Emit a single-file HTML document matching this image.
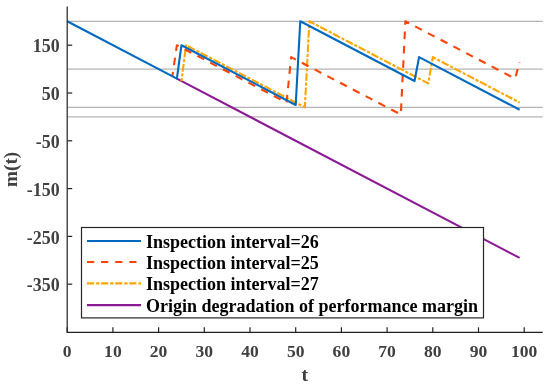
<!DOCTYPE html><html><head><meta charset="utf-8"><title>chart</title><style>html,body{margin:0;padding:0;background:#fff}svg{display:block}text{font-family:"Liberation Serif",serif;font-weight:bold}</style></head><body>
<svg width="550" height="385" viewBox="0 0 550 385">
<rect width="550" height="385" fill="#fff"/>
<line x1="67.20" x2="542.70" y1="21.30" y2="21.30" stroke="#b4b4b4" stroke-width="1.2"/>
<line x1="67.20" x2="542.70" y1="69.10" y2="69.10" stroke="#b4b4b4" stroke-width="1.2"/>
<line x1="67.20" x2="542.70" y1="107.34" y2="107.34" stroke="#b4b4b4" stroke-width="1.2"/>
<line x1="67.20" x2="542.70" y1="116.90" y2="116.90" stroke="#b4b4b4" stroke-width="1.2"/>
<polyline points="176.88,78.66 519.63,257.91" fill="none" stroke="#8c1a94" stroke-width="2.1" stroke-linejoin="round"/>
<polyline points="181.45,81.05 186.02,45.20 304.84,107.34 309.41,21.30 428.23,83.44 432.80,57.15 519.63,102.56" fill="none" stroke="#ffa500" stroke-width="2.1" stroke-dasharray="7.8,1.7,3.2,1.7" stroke-dashoffset="4.86" stroke-linejoin="round"/>
<polyline points="172.31,76.27 176.88,45.20 286.56,102.56 291.13,57.15 400.81,114.51 405.38,21.30 515.06,78.66 519.63,61.93" fill="none" stroke="#fb4508" stroke-width="2.1" stroke-dasharray="7.6,6.8" stroke-dashoffset="3.09" stroke-linejoin="round"/>
<polyline points="67.20,21.30 176.88,78.66 181.45,45.20 295.70,104.95 300.27,21.30 414.52,81.05 419.09,57.15 519.63,109.73" fill="none" stroke="#006ac0" stroke-width="2.1" stroke-linejoin="round"/>
<path d="M67.20 6.50V332.30H542.70" fill="none" stroke="#222" stroke-width="1.2"/>
<line x1="67.20" x2="67.20" y1="332.30" y2="327.30" stroke="#222" stroke-width="1.2"/>
<text transform="translate(67.20,356.6) scale(1,0.97)" font-size="17.6" text-anchor="middle" fill="#404040">0</text>
<line x1="112.90" x2="112.90" y1="332.30" y2="327.30" stroke="#222" stroke-width="1.2"/>
<text transform="translate(112.90,356.6) scale(1,0.97)" font-size="17.6" text-anchor="middle" fill="#404040">10</text>
<line x1="158.60" x2="158.60" y1="332.30" y2="327.30" stroke="#222" stroke-width="1.2"/>
<text transform="translate(158.60,356.6) scale(1,0.97)" font-size="17.6" text-anchor="middle" fill="#404040">20</text>
<line x1="204.30" x2="204.30" y1="332.30" y2="327.30" stroke="#222" stroke-width="1.2"/>
<text transform="translate(204.30,356.6) scale(1,0.97)" font-size="17.6" text-anchor="middle" fill="#404040">30</text>
<line x1="250.00" x2="250.00" y1="332.30" y2="327.30" stroke="#222" stroke-width="1.2"/>
<text transform="translate(250.00,356.6) scale(1,0.97)" font-size="17.6" text-anchor="middle" fill="#404040">40</text>
<line x1="295.70" x2="295.70" y1="332.30" y2="327.30" stroke="#222" stroke-width="1.2"/>
<text transform="translate(295.70,356.6) scale(1,0.97)" font-size="17.6" text-anchor="middle" fill="#404040">50</text>
<line x1="341.40" x2="341.40" y1="332.30" y2="327.30" stroke="#222" stroke-width="1.2"/>
<text transform="translate(341.40,356.6) scale(1,0.97)" font-size="17.6" text-anchor="middle" fill="#404040">60</text>
<line x1="387.10" x2="387.10" y1="332.30" y2="327.30" stroke="#222" stroke-width="1.2"/>
<text transform="translate(387.10,356.6) scale(1,0.97)" font-size="17.6" text-anchor="middle" fill="#404040">70</text>
<line x1="432.80" x2="432.80" y1="332.30" y2="327.30" stroke="#222" stroke-width="1.2"/>
<text transform="translate(432.80,356.6) scale(1,0.97)" font-size="17.6" text-anchor="middle" fill="#404040">80</text>
<line x1="478.50" x2="478.50" y1="332.30" y2="327.30" stroke="#222" stroke-width="1.2"/>
<text transform="translate(478.50,356.6) scale(1,0.97)" font-size="17.6" text-anchor="middle" fill="#404040">90</text>
<line x1="524.20" x2="524.20" y1="332.30" y2="327.30" stroke="#222" stroke-width="1.2"/>
<text transform="translate(524.20,356.6) scale(1,0.97)" font-size="17.6" text-anchor="middle" fill="#404040">100</text>
<line x1="67.20" x2="72.20" y1="45.20" y2="45.20" stroke="#222" stroke-width="1.2"/>
<text transform="translate(59.6,52.30)" font-size="17.9" text-anchor="end" fill="#404040">150</text>
<line x1="67.20" x2="72.20" y1="93.00" y2="93.00" stroke="#222" stroke-width="1.2"/>
<text transform="translate(59.6,100.10)" font-size="17.9" text-anchor="end" fill="#404040">50</text>
<line x1="67.20" x2="72.20" y1="140.80" y2="140.80" stroke="#222" stroke-width="1.2"/>
<text transform="translate(59.6,147.90)" font-size="17.9" text-anchor="end" fill="#404040">-50</text>
<line x1="67.20" x2="72.20" y1="188.60" y2="188.60" stroke="#222" stroke-width="1.2"/>
<text transform="translate(59.6,195.70)" font-size="17.9" text-anchor="end" fill="#404040">-150</text>
<line x1="67.20" x2="72.20" y1="236.40" y2="236.40" stroke="#222" stroke-width="1.2"/>
<text transform="translate(59.6,243.50)" font-size="17.9" text-anchor="end" fill="#404040">-250</text>
<line x1="67.20" x2="72.20" y1="284.20" y2="284.20" stroke="#222" stroke-width="1.2"/>
<text transform="translate(59.6,291.30)" font-size="17.9" text-anchor="end" fill="#404040">-350</text>
<text x="304.8" y="380.7" font-size="19.6" text-anchor="middle" fill="#404040">t</text>
<text transform="translate(16.6,169.4) rotate(-90)" font-size="19.2" text-anchor="middle" fill="#404040">m(t)</text>
<rect x="81.5" y="227.5" width="402" height="90.4" fill="#fff" stroke="#262626" stroke-width="1.2"/>
<line x1="87" x2="141" y1="241.0" y2="241.0" stroke="#006ac0" stroke-width="2.1"/>
<text x="146" y="247.6" font-size="18" fill="#000">Inspection interval=26</text>
<line x1="87" x2="141" y1="262.0" y2="262.0" stroke="#fb4508" stroke-width="2.1" stroke-dasharray="7.2,6.9"/>
<text x="146" y="268.6" font-size="18" fill="#000">Inspection interval=25</text>
<line x1="87" x2="141" y1="283.4" y2="283.4" stroke="#ffa500" stroke-width="2.1" stroke-dasharray="7.1,2,3.3,1.7"/>
<text x="146" y="290.1" font-size="18" fill="#000">Inspection interval=27</text>
<line x1="87" x2="141" y1="305.1" y2="305.1" stroke="#8c1a94" stroke-width="2.1"/>
<text x="146" y="311.7" font-size="18" fill="#000">Origin degradation of performance margin</text>
</svg></body></html>
